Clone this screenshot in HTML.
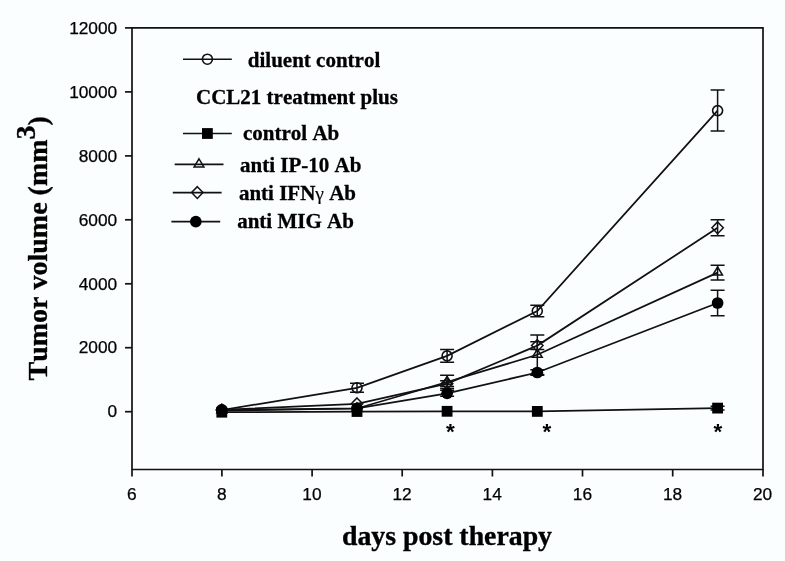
<!DOCTYPE html>
<html lang="en"><head><meta charset="utf-8"><title>Tumor volume vs days post therapy</title>
<style>
html,body{margin:0;padding:0;background:#fbfefe;}
body{width:785px;height:561px;overflow:hidden;}
svg{display:block;font-kerning:none;}
.tick{font-family:"Liberation Sans",Arial,sans-serif;font-size:17.3px;fill:#000;stroke:#000;stroke-width:0.25px;}
.leg{font-family:"Liberation Serif","Times New Roman",serif;font-weight:bold;font-size:21px;fill:#000;stroke:#000;stroke-width:0.3px;}
.ttl{font-family:"Liberation Serif","Times New Roman",serif;font-weight:bold;font-size:28px;fill:#000;stroke:#000;stroke-width:0.35px;}
</style></head><body>
<svg width="785" height="561" viewBox="0 0 785 561">
<rect width="785" height="561" fill="#fbfefe"/>

<g stroke="#111" stroke-width="1.7" fill="none">
<path d="M132 27.9 H763 V469.5 H132 Z"/>
<path d="M125 411.7 H132"/>
<path d="M125 347.7 H132"/>
<path d="M125 283.8 H132"/>
<path d="M125 219.8 H132"/>
<path d="M125 155.9 H132"/>
<path d="M125 91.9 H132"/>
<path d="M125 27.9 H132"/>
<path d="M132.0 469.5 V476.5"/>
<path d="M221.9 469.5 V476.5"/>
<path d="M312.1 469.5 V476.5"/>
<path d="M402.2 469.5 V476.5"/>
<path d="M492.4 469.5 V476.5"/>
<path d="M582.5 469.5 V476.5"/>
<path d="M672.7 469.5 V476.5"/>
<path d="M763.0 469.5 V476.5"/>
</g>
<text class="tick" x="117.2" y="417.4" text-anchor="end">0</text>
<text class="tick" x="117.2" y="353.4" text-anchor="end">2000</text>
<text class="tick" x="117.2" y="289.5" text-anchor="end">4000</text>
<text class="tick" x="117.2" y="225.5" text-anchor="end">6000</text>
<text class="tick" x="117.2" y="161.6" text-anchor="end">8000</text>
<text class="tick" x="117.2" y="97.6" text-anchor="end">10000</text>
<text class="tick" x="117.2" y="33.6" text-anchor="end">12000</text>
<text class="tick" x="131.7" y="500.1" text-anchor="middle">6</text>
<text class="tick" x="221.8" y="500.1" text-anchor="middle">8</text>
<text class="tick" x="311.9" y="500.1" text-anchor="middle">10</text>
<text class="tick" x="402.1" y="500.1" text-anchor="middle">12</text>
<text class="tick" x="492.2" y="500.1" text-anchor="middle">14</text>
<text class="tick" x="582.4" y="500.1" text-anchor="middle">16</text>
<text class="tick" x="672.5" y="500.1" text-anchor="middle">18</text>
<text class="tick" x="762.6" y="500.1" text-anchor="middle">20</text>
<g><path d="M221.8 410.1 L357.0 387.8 L447.1 355.9 L537.3 311.0 L717.6 110.6" fill="none" stroke="#111" stroke-width="1.75"/>
<circle cx="221.8" cy="410.1" r="5.0" fill="none" stroke="#111" stroke-width="1.6"/>
<path d="M357.0 383.3 V392.3 M350.0 383.3 H364.0 M350.0 392.3 H364.0" fill="none" stroke="#111" stroke-width="1.5"/>
<circle cx="357.0" cy="387.8" r="5.0" fill="none" stroke="#111" stroke-width="1.6"/>
<path d="M447.1 349.6 V362.2 M440.1 349.6 H454.1 M440.1 362.2 H454.1" fill="none" stroke="#111" stroke-width="1.5"/>
<circle cx="447.1" cy="355.9" r="5.0" fill="none" stroke="#111" stroke-width="1.6"/>
<path d="M537.3 305.2 V316.7 M530.3 305.2 H544.3 M530.3 316.7 H544.3" fill="none" stroke="#111" stroke-width="1.5"/>
<circle cx="537.3" cy="311.0" r="5.0" fill="none" stroke="#111" stroke-width="1.6"/>
<path d="M717.6 90.1 V131.1 M710.6 90.1 H724.6 M710.6 131.1 H724.6" fill="none" stroke="#111" stroke-width="1.5"/>
<circle cx="717.6" cy="110.6" r="5.0" fill="none" stroke="#111" stroke-width="1.6"/>
</g>
<g><path d="M221.8 410.7 L357.0 408.5 L447.1 382.0 L537.3 354.8 L717.6 272.6" fill="none" stroke="#111" stroke-width="1.75"/>
<path d="M221.8 405.1 L226.7 413.2 L216.9 413.2 Z" fill="none" stroke="#111" stroke-width="1.5"/>
<path d="M357.0 402.9 L361.9 411.0 L352.1 411.0 Z" fill="none" stroke="#111" stroke-width="1.5"/>
<path d="M447.1 375.3 V388.6 M440.1 375.3 H454.1 M440.1 388.6 H454.1" fill="none" stroke="#111" stroke-width="1.5"/>
<path d="M447.1 376.4 L452.0 384.5 L442.2 384.5 Z" fill="none" stroke="#111" stroke-width="1.5"/>
<path d="M537.3 335.1 V374.5 M530.3 335.1 H544.3 M530.3 374.5 H544.3" fill="none" stroke="#111" stroke-width="1.5"/>
<path d="M537.3 349.2 L542.2 357.3 L532.4 357.3 Z" fill="none" stroke="#111" stroke-width="1.5"/>
<path d="M717.6 265.2 V279.9 M710.6 265.2 H724.6 M710.6 279.9 H724.6" fill="none" stroke="#111" stroke-width="1.5"/>
<path d="M717.6 267.0 L722.5 275.1 L712.7 275.1 Z" fill="none" stroke="#111" stroke-width="1.5"/>
</g>
<g><path d="M221.8 409.9 L357.0 403.8 L447.1 383.6 L537.3 345.6 L717.6 227.8" fill="none" stroke="#111" stroke-width="1.75"/>
<path d="M221.8 404.0 L227.5 409.9 L221.8 415.8 L216.1 409.9 Z" fill="none" stroke="#111" stroke-width="1.5"/>
<path d="M357.0 397.9 L362.7 403.8 L357.0 409.7 L351.3 403.8 Z" fill="none" stroke="#111" stroke-width="1.5"/>
<path d="M447.1 380.7 V386.4 M440.1 380.7 H454.1 M440.1 386.4 H454.1" fill="none" stroke="#111" stroke-width="1.5"/>
<path d="M447.1 377.7 L452.8 383.6 L447.1 389.5 L441.4 383.6 Z" fill="none" stroke="#111" stroke-width="1.5"/>
<path d="M537.3 341.7 V349.5 M530.3 341.7 H544.3 M530.3 349.5 H544.3" fill="none" stroke="#111" stroke-width="1.5"/>
<path d="M537.3 339.7 L543.0 345.6 L537.3 351.5 L531.6 345.6 Z" fill="none" stroke="#111" stroke-width="1.5"/>
<path d="M717.6 219.8 V235.8 M710.6 219.8 H724.6 M710.6 235.8 H724.6" fill="none" stroke="#111" stroke-width="1.5"/>
<path d="M717.6 221.9 L723.3 227.8 L717.6 233.7 L711.9 227.8 Z" fill="none" stroke="#111" stroke-width="1.5"/>
</g>
<g><path d="M221.8 409.9 L357.0 408.3 L447.1 393.3 L537.3 372.5 L717.6 303.0" fill="none" stroke="#111" stroke-width="1.75"/>
<circle cx="221.8" cy="409.9" r="5.85" fill="#000"/>
<circle cx="357.0" cy="408.3" r="5.85" fill="#000"/>
<path d="M447.1 390.3 V396.3 M440.1 390.3 H454.1 M440.1 396.3 H454.1" fill="none" stroke="#111" stroke-width="1.5"/>
<circle cx="447.1" cy="393.3" r="5.85" fill="#000"/>
<path d="M537.3 369.7 V375.3 M530.3 369.7 H544.3 M530.3 375.3 H544.3" fill="none" stroke="#111" stroke-width="1.5"/>
<circle cx="537.3" cy="372.5" r="5.85" fill="#000"/>
<path d="M717.6 290.2 V315.8 M710.6 290.2 H724.6 M710.6 315.8 H724.6" fill="none" stroke="#111" stroke-width="1.5"/>
<circle cx="717.6" cy="303.0" r="5.85" fill="#000"/>
</g>
<g><path d="M221.8 412.2 L357.0 411.5 L447.1 411.3 L537.3 411.4 L717.6 408.1" fill="none" stroke="#111" stroke-width="1.75"/>
<rect x="216.4" y="406.8" width="10.8" height="10.8" fill="#000"/>
<rect x="351.6" y="406.1" width="10.8" height="10.8" fill="#000"/>
<rect x="441.7" y="405.9" width="10.8" height="10.8" fill="#000"/>
<rect x="531.9" y="406.0" width="10.8" height="10.8" fill="#000"/>
<path d="M717.6 406.2 V410.0 M710.6 406.2 H724.6 M710.6 410.0 H724.6" fill="none" stroke="#111" stroke-width="1.5"/>
<rect x="712.2" y="402.7" width="10.8" height="10.8" fill="#000"/>
</g>
<text x="450.5" y="438.8" text-anchor="middle" style="font-family:'Liberation Sans',Arial,sans-serif;font-weight:bold;font-size:22.5px;fill:#000">*</text>
<text x="547" y="438.8" text-anchor="middle" style="font-family:'Liberation Sans',Arial,sans-serif;font-weight:bold;font-size:22.5px;fill:#000">*</text>
<text x="717.8" y="438.8" text-anchor="middle" style="font-family:'Liberation Sans',Arial,sans-serif;font-weight:bold;font-size:22.5px;fill:#000">*</text>
<path d="M183.0 59.2 H231.8" stroke="#111" stroke-width="1.6"/>
<circle cx="207.4" cy="59.2" r="5.0" fill="none" stroke="#111" stroke-width="1.6"/>
<text class="leg" x="247.8" y="66.5">diluent control</text>
<path d="M183.0 133.5 H231.8" stroke="#111" stroke-width="1.6"/>
<rect x="202.0" y="128.1" width="10.8" height="10.8" fill="#000"/>
<text class="leg" x="243.0" y="140.4">control Ab</text>
<path d="M174.7 164.4 H223.5" stroke="#111" stroke-width="1.6"/>
<path d="M199.0 158.8 L203.9 166.9 L194.1 166.9 Z" fill="none" stroke="#111" stroke-width="1.5"/>
<text class="leg" x="240" y="172">anti IP-10 Ab</text>
<path d="M172.8 192.6 H221.6" stroke="#111" stroke-width="1.6"/>
<path d="M197.3 186.7 L203.0 192.6 L197.3 198.5 L191.6 192.6 Z" fill="none" stroke="#111" stroke-width="1.5"/>
<text class="leg" x="238.9" y="200">anti IFN<tspan font-weight="normal" font-size="19.5" stroke-width="0.15">γ</tspan> Ab</text>
<path d="M171.4 221.6 H220.2" stroke="#111" stroke-width="1.6"/>
<circle cx="195.8" cy="221.6" r="5.85" fill="#000"/>
<text class="leg" x="237.2" y="228.1">anti MIG Ab</text>
<text class="leg" x="196" y="103.6">CCL21 treatment plus</text>
<text class="ttl" x="447" y="545" text-anchor="middle" style="font-size:27.8px">days post therapy</text>
<text class="ttl" transform="translate(46.8 248.3) rotate(-90)" text-anchor="middle">Tumor volume (mm<tspan dy="-12" font-size="28">3</tspan><tspan dy="12">)</tspan></text>
</svg>
</body></html>
